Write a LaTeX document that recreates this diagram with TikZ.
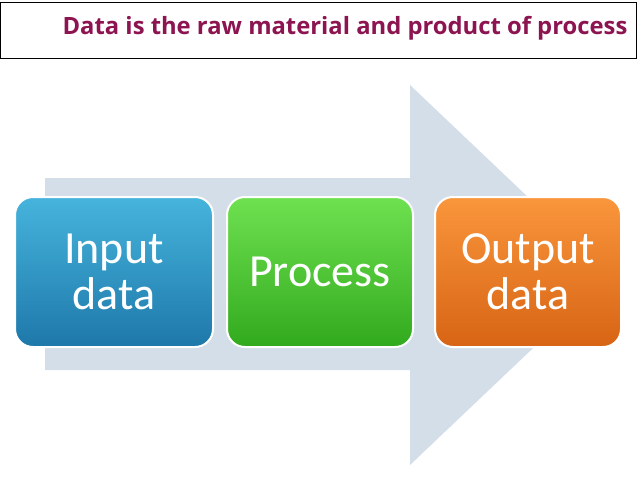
\documentclass[tikz,border=0pt]{standalone}
\usepackage{fontspec}
\setmainfont{Carlito}
\newfontfamily\titlefont{Open Sans}
\begin{document}
\begin{tikzpicture}[x=0.5pt,y=-0.5pt,
    stagebox/.style={rounded corners=9pt, minimum width=99pt, minimum height=75pt,
      text=white, font=\fontsize{23}{23}\selectfont, align=center, draw=white, line width=1pt}]
  \useasboundingbox (0,0) rectangle (638,478);
  % Title
  \node at (0,2) [draw, line width=0.6pt, minimum width=318pt, minimum height=28pt, anchor=north west] (title) {};
  \node at (345,28) [text={rgb,255:red,140;green,20;blue,80}, font=\titlefont\bfseries\fontsize{11.9}{14}\selectfont] (titletext) {Data is the raw material and product of process};
  % Big arrow
  \fill[fill={rgb,255:red,212;green,222;blue,232}] (45,178) -- (410,178) -- (410,85) -- (610,275) -- (410,465) -- (410,370) -- (45,370) -- cycle;
  % Boxes
  \node at (114,272) [stagebox, top color={rgb,255:red,70;green,180;blue,220}, bottom color={rgb,255:red,30;green,120;blue,170}] (input) {Input\\data};
  \node at (320,272) [stagebox, minimum width=93pt, top color={rgb,255:red,110;green,225;blue,80}, bottom color={rgb,255:red,50;green,170;blue,30}] (process) {Process};
  \node at (528,272) [stagebox, minimum width=93pt, top color={rgb,255:red,250;green,150;blue,60}, bottom color={rgb,255:red,215;green,100;blue,20}] (output) {Output\\data};
\end{tikzpicture}
\end{document}
